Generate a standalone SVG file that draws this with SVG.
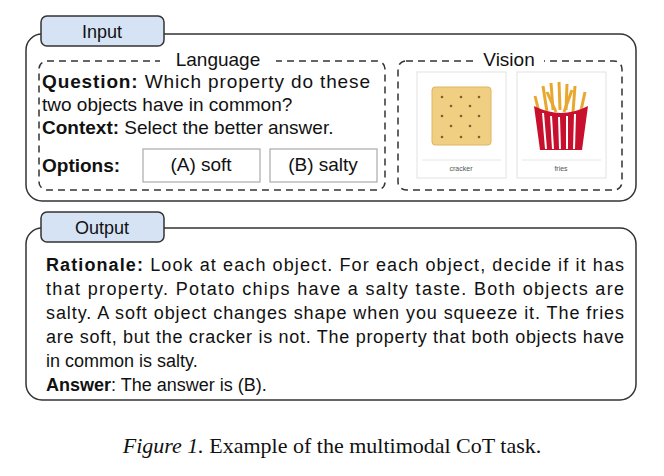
<svg xmlns="http://www.w3.org/2000/svg" width="664" height="476" viewBox="0 0 664 476">
<style>
.t{font-family:"Liberation Sans",Arial,sans-serif;font-size:18px;fill:#111}
.l{font-size:19px}
.b{font-weight:bold}
.outer{fill:#fff;stroke:#333;stroke-width:1.5}
.tab{fill:#d5e3f5;stroke:#333;stroke-width:1.5}
.dash{fill:none;stroke:#333;stroke-width:1.5;stroke-dasharray:7,5}
.opt{fill:#fff;stroke:#aaa;stroke-width:1.2}
.card{fill:#fff;stroke:#e2e2e2;stroke-width:1}
.sm{font-family:"Liberation Sans",Arial,sans-serif;font-size:7px;fill:#555}
</style>
<rect width="664" height="476" fill="#fff"/>
<g id="input">
<rect class="outer" x="26" y="34" width="610" height="167" rx="16"/>
<rect class="tab" x="41" y="16" width="123" height="30" rx="6"/>
<text class="t" x="102" y="38" text-anchor="middle">Input</text>
</g>
<g id="language">
<rect class="dash" x="39" y="61" width="346" height="129" rx="8"/>
<rect x="160" y="52" width="116" height="18" fill="#fff"/>
<text class="t l" x="218" y="66" text-anchor="middle">Language</text>
<text class="t l" x="42" y="88" textLength="328" lengthAdjust="spacing"><tspan class="b">Question:</tspan> Which property do these</text>
<text class="t l" x="42" y="111">two objects have in common?</text>
<text class="t l" x="42" y="134"><tspan class="b">Context:</tspan> Select the better answer.</text>
<text class="t l b" x="42" y="172">Options:</text>
<rect class="opt" x="143" y="149" width="117" height="33"/>
<text class="t l" x="201" y="171" text-anchor="middle">(A) soft</text>
<rect class="opt" x="270" y="149" width="107" height="33"/>
<text class="t l" x="323" y="171" text-anchor="middle">(B) salty</text>
</g>
<g id="vision">
<rect class="dash" x="398" y="61" width="224" height="129" rx="8"/>
<rect x="474" y="52" width="70" height="18" fill="#fff"/>
<text class="t l" x="509" y="66" text-anchor="middle">Vision</text>
<rect class="card" x="417" y="72" width="89" height="106"/>
<line x1="422" y1="160" x2="501" y2="160" stroke="#e6e6e6"/>
<text class="sm" x="461" y="171" text-anchor="middle">cracker</text>
<rect x="432" y="87" width="59" height="58" rx="3" fill="#f0cf82" stroke="#e0b560"/>
<g fill="#8a5a2a">
<circle cx="442" cy="97" r="1.3"/><circle cx="461" cy="97" r="1.3"/><circle cx="479" cy="97" r="1.3"/>
<circle cx="451" cy="106" r="1.3"/><circle cx="470" cy="106" r="1.3"/>
<circle cx="442" cy="116" r="1.3"/><circle cx="461" cy="116" r="1.3"/><circle cx="479" cy="116" r="1.3"/>
<circle cx="451" cy="126" r="1.3"/><circle cx="470" cy="126" r="1.3"/>
<circle cx="442" cy="137" r="1.3"/><circle cx="461" cy="137" r="1.3"/><circle cx="479" cy="137" r="1.3"/>
</g>
<rect class="card" x="517" y="72" width="89" height="106"/>
<line x1="522" y1="160" x2="601" y2="160" stroke="#e6e6e6"/>
<text class="sm" x="561" y="171" text-anchor="middle">fries</text>
<g stroke="#e8a830" stroke-width="3">
<line x1="535" y1="96" x2="540" y2="116"/><line x1="543" y1="86" x2="547" y2="112"/>
<line x1="551" y1="83" x2="553" y2="110"/><line x1="559" y1="82" x2="560" y2="110"/>
<line x1="567" y1="84" x2="566" y2="110"/><line x1="575" y1="86" x2="573" y2="112"/>
<line x1="585" y1="92" x2="580" y2="115"/><line x1="547" y1="92" x2="556" y2="112"/><line x1="572" y1="90" x2="564" y2="112"/>
</g>
<path d="M534,106 Q561,120 588,106 L582,150 L540,150 Z" fill="#c8102e"/>
<g stroke="#fff" stroke-width="2">
<line x1="543" y1="113" x2="546" y2="149"/><line x1="551" y1="116" x2="553" y2="149"/>
<line x1="559" y1="117" x2="560" y2="149"/><line x1="567" y1="116" x2="567" y2="149"/>
<line x1="575" y1="114" x2="574" y2="149"/>
</g>
</g>
<g id="output">
<rect class="outer" x="26" y="228" width="610" height="172" rx="16"/>
<rect class="tab" x="41" y="212" width="123" height="30" rx="6"/>
<text class="t" x="102" y="234" text-anchor="middle">Output</text>
<text class="t" x="46" y="271" textLength="578" lengthAdjust="spacing"><tspan class="b">Rationale:</tspan> Look at each object. For each object, decide if it has</text>
<text class="t" x="46" y="295" textLength="578" lengthAdjust="spacing">that property. Potato chips have a salty taste. Both objects are</text>
<text class="t" x="46" y="319" textLength="578" lengthAdjust="spacing">salty. A soft object changes shape when you squeeze it. The fries</text>
<text class="t" x="46" y="343" textLength="578" lengthAdjust="spacing">are soft, but the cracker is not. The property that both objects have</text>
<text class="t" x="46" y="367">in common is salty.</text>
<text class="t" x="46" y="391"><tspan class="b">Answer</tspan>: The answer is (B).</text>
</g>
<g id="connectors"/>
<text x="332" y="453" text-anchor="middle" font-family="Liberation Serif,serif" font-style="italic" font-size="22" fill="#111">Figure 1. <tspan font-style="normal">Example of the multimodal CoT task.</tspan></text>
</svg>
